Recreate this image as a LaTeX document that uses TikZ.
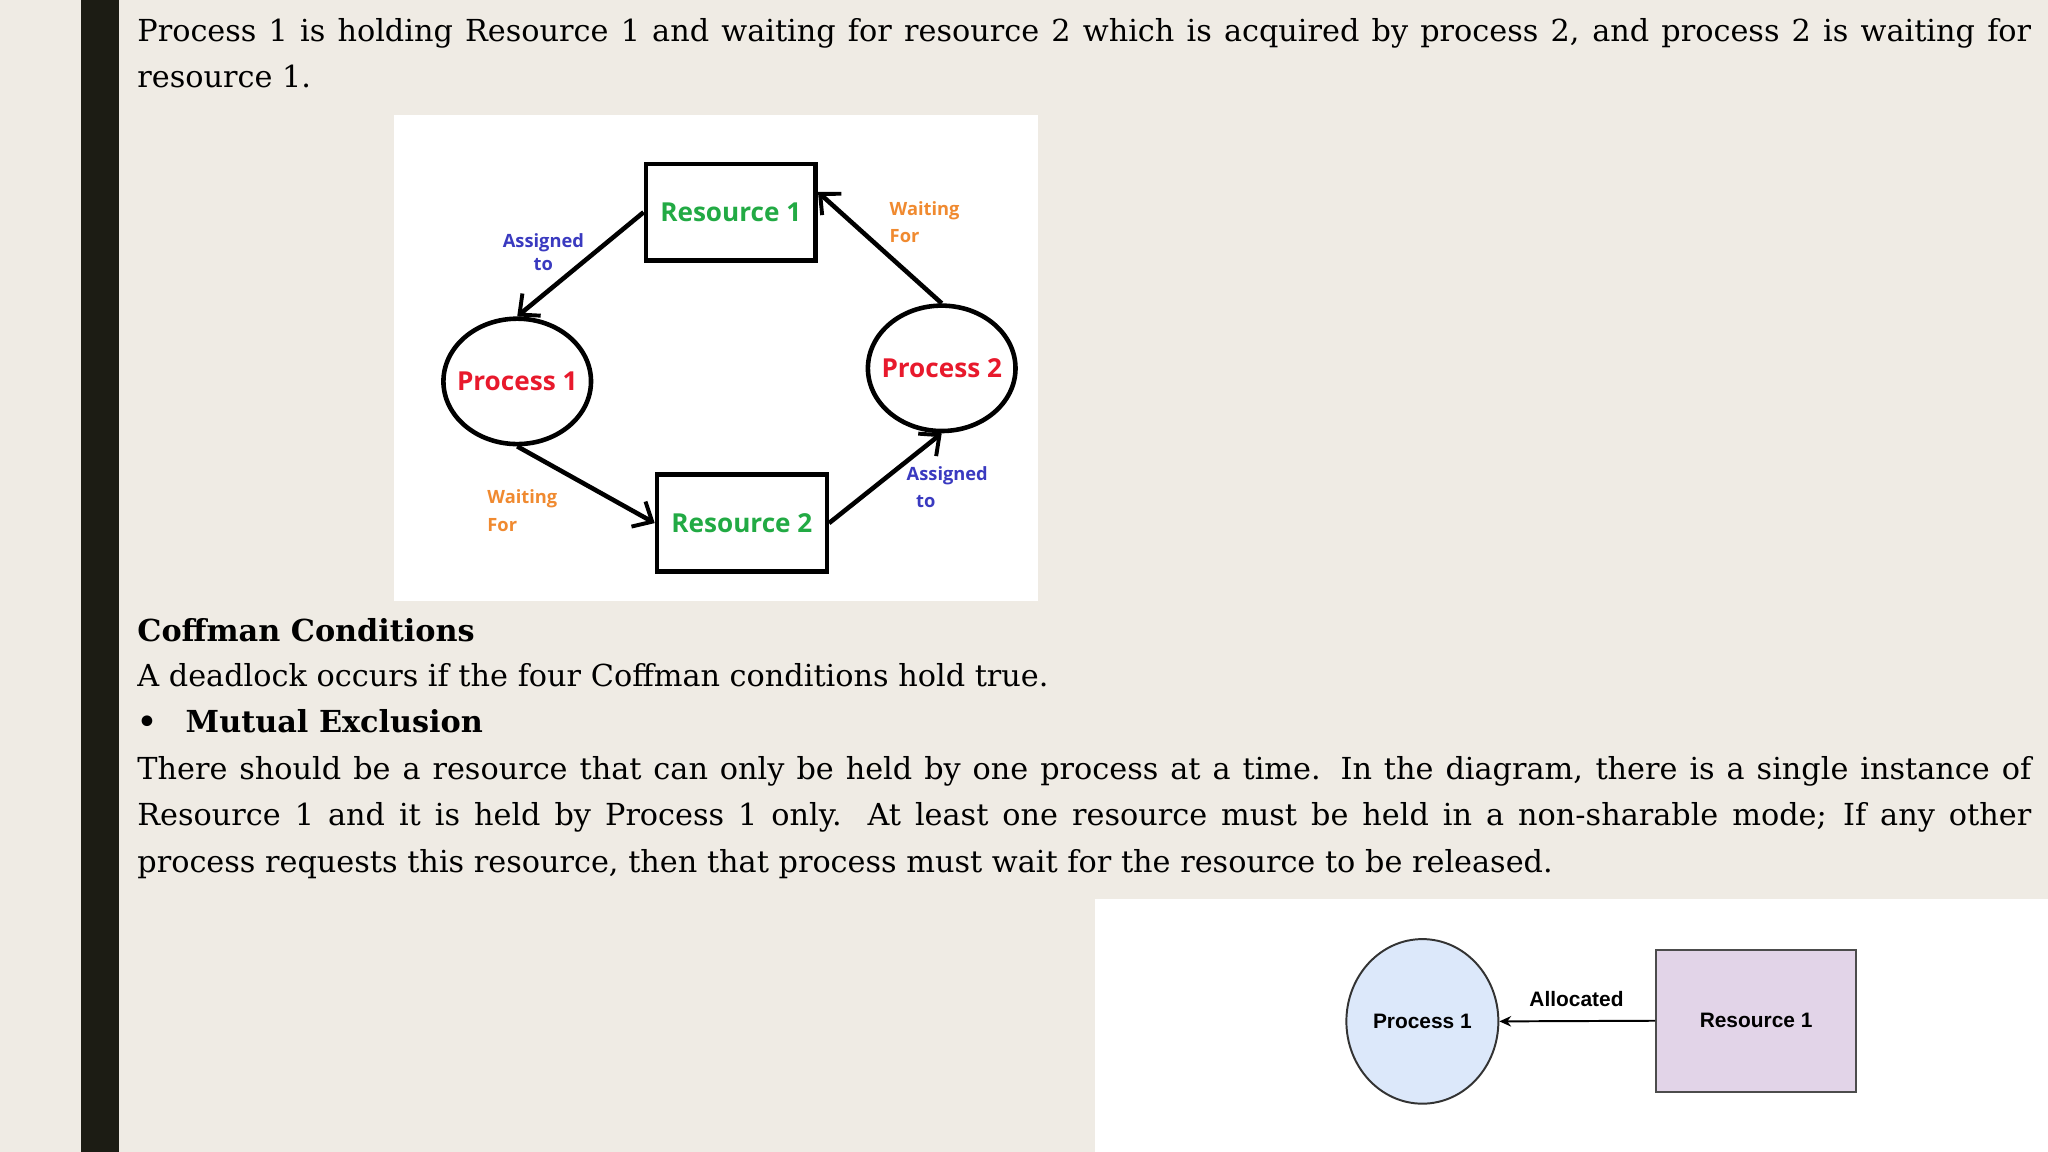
\documentclass[tikz,border=0pt]{standalone}
\usepackage{fontspec}
\setmainfont{DejaVu Serif}
\newfontfamily\lab{Open Sans}
\newfontfamily\arl{Liberation Sans}
\usetikzlibrary{arrows.meta,shapes.geometric}
\definecolor{bg}{HTML}{EFEBE4}
\definecolor{bar}{HTML}{1C1C14}
\definecolor{rgreen}{HTML}{22AA44}
\definecolor{pred}{HTML}{E8192C}
\definecolor{ablue}{HTML}{3A3AC0}
\definecolor{worange}{HTML}{F08A30}
\definecolor{lblue}{HTML}{DCE8FA}
\definecolor{lav}{HTML}{E2D4E8}
\tikzset{
 box/.style={draw=black,line width=3.5pt,minimum width=130pt,minimum height=74pt,inner sep=0pt,font=\lab\bfseries\fontsize{20}{22}\selectfont,text=rgreen},
 proc/.style={ellipse,draw=black,line width=3.5pt,minimum width=113pt,minimum height=96pt,inner sep=0pt,label={[font=\lab\bfseries\fontsize{20}{22}\selectfont,text=pred]center:#1}},
 arr/.style={line width=3.5pt,-{Straight Barb[length=12pt,width=22pt,line width=3pt]}},
 lb/.style={font=\lab\bfseries\fontsize{14}{17}\selectfont,align=center,inner sep=0pt},
 txt/.style={anchor=north west,inner sep=0pt,text width=1450pt,align=justify,font=\fontsize{23.2}{35.5}\selectfont},
}
\begin{document}
\begin{tikzpicture}[x=1pt,y=-1pt]
\fill[bg] (0,0) rectangle (1568,882);
\useasboundingbox (0,0) rectangle (1568,882);
\fill[bar] (62,0) rectangle (91,882);
\node[txt] (t1) at (105,14) {Process 1 is holding Resource 1 and waiting for resource 2 which is acquired by process 2, and process 2 is waiting for resource~1.};
\fill[white] (302,88) rectangle (795,460);
\node[box] (r1) at (559.5,162.5) {Resource 1};
\node[box] (r2) at (568,400.5) {Resource 2};
\node[proc=Process 1] (p1) at (396,292) {};
\node[proc=Process 2] (p2) at (721,282) {};
\draw[arr] (r1.west) -- (p1.north);
\draw[arr] (p2.north) -- (r1.north east |- 0,147);
\draw[arr] (p1.south) -- (r2.west);
\draw[arr] (r2.east) -- (p2.south);
\node[lb,text=ablue] (a1) at (416,193) {Assigned\\to};
\node[lb,text=worange,align=left,anchor=west] (w1) at (681,170) {Waiting\\[4pt]For};
\node[lb,text=worange,align=left,anchor=west] (w2) at (373,391) {Waiting\\[4pt]For};
\node[lb,text=ablue,align=left,anchor=west] (a2) at (694,373) {Assigned\\[4pt]\ \ to};
\node[txt,font=\bfseries\fontsize{23.2}{35.5}\selectfont] (h) at (105,473) {Coffman Conditions};
\node[txt] (t2) at (105,508) {A deadlock occurs if the four Coffman conditions hold true.};
\node[txt,font=\bfseries\fontsize{23.2}{35.5}\selectfont] (b) at (105,543) {\makebox[37pt][l]{\textbullet}Mutual Exclusion};
\node[txt] (t3) at (105,579) {There should be a resource that can only be held by one process at a time. In the diagram, there is a single instance of\linebreak Resource~1 and it is held by Process~1 only. At least one resource must be held in a non-sharable mode; If any other\linebreak process requests this resource, then that process must wait for the resource to be released.};
\fill[white] (838,688) rectangle (1568,882);
\node[ellipse,draw=black!80,line width=1.5pt,fill=lblue,minimum width=110pt,minimum height=126pt,font=\arl\bfseries\fontsize{16}{18}\selectfont] (q1) at (1089,782) {Process 1};
\node[draw=black!70,line width=1.5pt,fill=lav,minimum width=153pt,minimum height=109pt,font=\arl\bfseries\fontsize{16}{18}\selectfont] (s1) at (1344.5,781.5) {Resource 1};
\draw[line width=1.5pt,-{Stealth[length=9pt,width=8pt]}] (s1.west) -- (q1.east);
\node[font=\arl\bfseries\fontsize{16}{18}\selectfont] (al) at (1207,765) {Allocated};
\end{tikzpicture}
\end{document}
